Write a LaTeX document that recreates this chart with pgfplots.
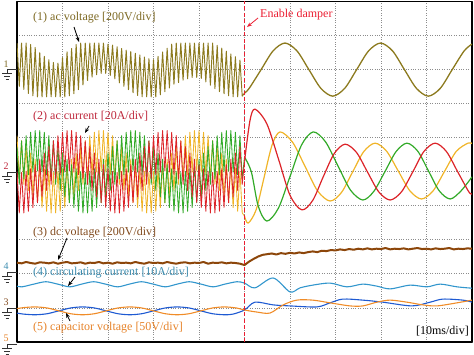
\documentclass[border=0pt]{standalone}
\usepackage{pgfplots}
\pgfplotsset{compat=1.18}
\usepackage{fontspec}
\setmainfont{Liberation Serif}
\usetikzlibrary{arrows.meta}
\definecolor{cOne}{RGB}{140,122,30}
\definecolor{cOneL}{RGB}{125,105,35}
\definecolor{cRed}{RGB}{220,35,40}
\definecolor{cYel}{RGB}{240,180,40}
\definecolor{cGrn}{RGB}{50,170,40}
\definecolor{cBrn}{RGB}{140,70,10}
\definecolor{cTeal}{RGB}{50,150,205}
\definecolor{cBlue}{RGB}{30,90,210}
\definecolor{cOrg}{RGB}{240,140,40}
\definecolor{lRed}{RGB}{190,40,60}
\definecolor{lBrn}{RGB}{130,75,30}
\definecolor{lTeal}{RGB}{60,140,175}
\definecolor{lOrg}{RGB}{230,130,40}
\definecolor{lEn}{RGB}{235,30,50}
\newcommand{\gnd}[1]{%
  \draw[line width=0.8pt,black!80] (17,#1)--(7,#1)--(7,#1-4);
  \draw[line width=0.8pt,black!80] (2,#1-4)--(12,#1-4);
  \draw[line width=0.8pt,black!80] (4,#1-7)--(10,#1-7);
  \draw[line width=0.8pt,black!80] (5.5,#1-10)--(8.5,#1-10);}
\begin{document}
\begin{tikzpicture}[x=1pt,y=1pt]
\path[use as bounding box] (0,0) rectangle (474,354);
\begin{axis}[
  at={(17pt,12pt)}, anchor=south west, scale only axis,
  width=455pt, height=340.5pt,
  xmin=0, xmax=100, ymin=0, ymax=10,
  xtick={0,10,...,100}, ytick={0,1,...,10},
  xticklabels={}, yticklabels={}, major tick length=0pt,
  grid=major, grid style={dotted, line width=0.9pt, black!45},
  axis line style={line width=1.8pt, black},
  line join=round,
]
% ---- channel 1: ac voltage
\addplot[cOne, line width=0.95pt] coordinates {
(0,8.78)(0.5,7.51)(1,8.78)(1.5,7.42)(2,8.78)(2.5,7.30)(3,8.74)(3.5,7.23)(4,8.65)(4.5,7.20)(5,8.50)(5.5,7.20)(6,8.39)(6.5,7.20)(7,8.29)(7.5,7.20)(8,8.21)(8.5,7.20)(9,8.19)(9.5,7.20)(10,8.35)(10.5,7.20)(11,8.52)(11.5,7.23)(12,8.62)(12.5,7.29)(13,8.74)(13.5,7.41)(14,8.78)(14.5,7.55)(15,8.78)(15.5,7.68)(16,8.78)(16.5,7.78)(17,8.78)(17.5,7.85)(18,8.78)(18.5,7.89)(19,8.78)(19.5,7.89)(20,8.75)(20.5,7.83)(21,8.72)(21.5,7.73)(22,8.67)(22.5,7.61)(23,8.62)(23.5,7.51)(24,8.57)(24.5,7.41)(25,8.53)(25.5,7.32)(26,8.48)(26.5,7.24)(27,8.43)(27.5,7.20)(28,8.37)(28.5,7.20)(29,8.32)(29.5,7.20)(30,8.29)(30.5,7.20)(31,8.39)(31.5,7.26)(32,8.52)(32.5,7.35)(33,8.63)(33.5,7.46)(34,8.75)(34.5,7.57)(35,8.78)(35.5,7.62)(36,8.78)(36.5,7.69)(37,8.78)(37.5,7.73)(38,8.78)(38.5,7.77)(39,8.78)(39.5,7.77)(40,8.78)(40.5,7.74)(41,8.78)(41.5,7.64)(42,8.78)(42.5,7.54)(43,8.78)(43.5,7.44)(44,8.71)(44.5,7.35)(45,8.63)(45.5,7.29)(46,8.54)(46.5,7.23)(47,8.46)(47.5,7.20)(48,8.38)(48.5,7.20)(49,8.28)(49.5,7.22)(50,7.31)};
\addplot[cOne, line width=1.3pt, smooth] coordinates {
(50,7.31)(51.03,7.45)(53.65,8.0)(56.28,8.55)(58.9,8.78)(61.53,8.55)(64.15,8.0)(66.78,7.45)(69.4,7.22)(72.03,7.45)(74.65,8.0)(77.28,8.55)(79.9,8.78)(82.53,8.55)(85.15,8.0)(87.78,7.45)(90.4,7.22)(93.03,7.45)(95.65,8.0)(98.28,8.55)(100,8.75)};
% ---- channel 2: ac currents
\addplot[cYel, line width=0.85pt] coordinates {
(0,6.06)(0.5,4.79)(1,5.91)(1.5,4.63)(2,5.74)(2.5,4.45)(3,5.55)(3.5,4.26)(4,5.37)(4.5,4.09)(5,5.21)(5.5,3.95)(6,5.09)(6.5,3.84)(7,5.01)(7.5,3.79)(8,4.98)(8.5,3.79)(9,5.01)(9.5,3.84)(10,5.09)(10.5,3.95)(11,5.21)(11.5,4.09)(12,5.37)(12.5,4.26)(13,5.55)(13.5,4.45)
(14,5.74)(14.5,4.63)(15,5.91)(15.5,4.79)(16,6.06)(16.5,4.91)(17,6.16)(17.5,4.99)(18,6.21)(18.5,5.02)(19,6.21)(19.5,4.99)(20,6.16)(20.5,4.91)(21,6.06)(21.5,4.79)(22,5.91)(22.5,4.63)(23,5.74)(23.5,4.45)(24,5.55)(24.5,4.26)(25,5.37)(25.5,4.09)(26,5.21)(26.5,3.95)(27,5.09)(27.5,3.84)(28,5.01)(28.5,3.79)(29,4.98)(29.5,3.79)(30,5.01)(30.5,3.84)(31,5.09)(31.5,3.95)(32,5.21)(32.5,4.09)(33,5.37)(33.5,4.26)(34,5.55)(34.5,4.45)
(35,5.74)(35.5,4.63)(36,5.91)(36.5,4.79)(37,6.06)(37.5,4.91)(38,6.16)(38.5,4.99)(39,6.21)(39.5,5.02)(40,6.21)(40.5,4.99)(41,6.16)(41.5,4.91)(42,6.06)(42.5,4.79)(43,5.91)(43.5,4.63)(44,5.74)(44.5,4.45)(45,5.55)(45.5,4.26)(46,5.37)(46.5,4.09)(47,5.21)(47.5,3.95)(48,5.09)(48.5,3.84)(49,5.01)(49.5,3.79)(50,3.7)};
\addplot[cGrn, line width=0.85pt] coordinates {
(0,5.74)(0.5,4.63)(1,5.91)(1.5,4.79)(2,6.06)(2.5,4.91)(3,6.16)(3.5,4.99)(4,6.21)(4.5,5.02)(5,6.21)(5.5,4.99)(6,6.16)(6.5,4.91)(7,6.06)(7.5,4.79)(8,5.91)(8.5,4.63)(9,5.74)(9.5,4.45)(10,5.55)(10.5,4.26)(11,5.37)(11.5,4.09)(12,5.21)(12.5,3.95)(13,5.09)(13.5,3.84)(14,5.01)(14.5,3.79)(15,4.98)(15.5,3.79)(16,5.01)(16.5,3.84)(17,5.09)(17.5,3.95)(18,5.21)(18.5,4.09)(19,5.37)(19.5,4.26)(20,5.55)(20.5,4.45)
(21,5.74)(21.5,4.63)(22,5.91)(22.5,4.79)(23,6.06)(23.5,4.91)(24,6.16)(24.5,4.99)(25,6.21)(25.5,5.02)(26,6.21)(26.5,4.99)(27,6.16)(27.5,4.91)(28,6.06)(28.5,4.79)(29,5.91)(29.5,4.63)(30,5.74)(30.5,4.45)(31,5.55)(31.5,4.26)(32,5.37)(32.5,4.09)(33,5.21)(33.5,3.95)(34,5.09)(34.5,3.84)(35,5.01)(35.5,3.79)(36,4.98)(36.5,3.79)(37,5.01)(37.5,3.84)(38,5.09)(38.5,3.95)(39,5.21)(39.5,4.09)(40,5.37)(40.5,4.26)(41,5.55)(41.5,4.45)
(42,5.74)(42.5,4.63)(43,5.91)(43.5,4.79)(44,6.06)(44.5,4.91)(45,6.16)(45.5,4.99)(46,6.21)(46.5,5.02)(47,6.21)(47.5,4.99)(48,6.16)(48.5,4.91)(49,6.06)(49.5,4.79)(50,5.43)};
\addplot[cRed, line width=0.85pt] coordinates {
(0,5.01)(0.5,3.79)(1,4.98)(1.5,3.79)(2,5.01)(2.5,3.84)(3,5.09)(3.5,3.95)(4,5.21)(4.5,4.09)(5,5.37)(5.5,4.26)(6,5.55)(6.5,4.45)
(7,5.74)(7.5,4.63)(8,5.91)(8.5,4.79)(9,6.06)(9.5,4.91)(10,6.16)(10.5,4.99)(11,6.21)(11.5,5.02)(12,6.21)(12.5,4.99)(13,6.16)(13.5,4.91)(14,6.06)(14.5,4.79)(15,5.91)(15.5,4.63)(16,5.74)(16.5,4.45)(17,5.55)(17.5,4.26)(18,5.37)(18.5,4.09)(19,5.21)(19.5,3.95)(20,5.09)(20.5,3.84)(21,5.01)(21.5,3.79)(22,4.98)(22.5,3.79)(23,5.01)(23.5,3.84)(24,5.09)(24.5,3.95)(25,5.21)(25.5,4.09)(26,5.37)(26.5,4.26)(27,5.55)(27.5,4.45)
(28,5.74)(28.5,4.63)(29,5.91)(29.5,4.79)(30,6.06)(30.5,4.91)(31,6.16)(31.5,4.99)(32,6.21)(32.5,5.02)(33,6.21)(33.5,4.99)(34,6.16)(34.5,4.91)(35,6.06)(35.5,4.79)(36,5.91)(36.5,4.63)(37,5.74)(37.5,4.45)(38,5.55)(38.5,4.26)(39,5.37)(39.5,4.09)(40,5.21)(40.5,3.95)(41,5.09)(41.5,3.84)(42,5.01)(42.5,3.79)(43,4.98)(43.5,3.79)(44,5.01)(44.5,3.84)(45,5.09)(45.5,3.95)(46,5.21)(46.5,4.09)(47,5.37)(47.5,4.26)(48,5.55)(48.5,4.45)
(49,5.74)(49.5,4.63)(50,5.3)};
\addplot[cYel, line width=1.2pt, smooth] coordinates {
(50,3.7)(50.8,3.49)(52.55,3.88)(54.3,4.83)(56.05,5.78)(57.8,6.17)(60.55,5.87)(63.3,5.16)(66.05,4.44)(68.8,4.14)(71.3,4.39)(73.75,4.99)(76.2,5.59)(78.7,5.84)(81.25,5.60)(83.8,5.02)(86.35,4.44)(88.9,4.2)(91.45,4.44)(94.0,5.02)(96.55,5.60)(99.1,5.84)(100,5.83)};
\addplot[cGrn, line width=1.2pt, smooth] coordinates {
(50,5.43)(51.5,5.0)(53.0,4.0)(54.9,3.55)(57.45,3.93)(60.0,4.86)(62.55,5.79)(65.1,6.17)(67.8,5.88)(70.55,5.17)(73.3,4.46)(76.0,4.17)(78.4,4.42)(80.85,5.0)(83.3,5.59)(85.7,5.84)(88.1,5.6)(90.45,5.02)(92.8,4.44)(95.2,4.2)(97.6,4.44)(100,4.85)};
\addplot[cRed, line width=1.2pt, smooth] coordinates {
(50,5.3)(51.2,6.5)(52.3,6.84)(54.9,6.41)(57.5,5.36)(60.0,4.31)(62.6,3.88)(65.0,4.16)(67.3,4.85)(69.7,5.53)(72.1,5.81)(74.6,5.57)(77.0,5.0)(79.5,4.41)(82.0,4.17)(84.5,4.41)(87.0,5.0)(89.4,5.59)(91.9,5.84)(94.4,5.59)(96.85,5.0)(99.3,4.41)(100,4.35)};
% ---- channel 3: dc voltage
\addplot[cBrn, line width=2pt] coordinates {
(0,2.33)(1,2.31)(2,2.35)(3,2.32)(4,2.30)(5,2.34)(6,2.33)(7,2.31)(8,2.34)(9,2.30)(10,2.33)(11,2.35)(12,2.31)(13,2.32)(14,2.34)(15,2.30)(16,2.33)(17,2.32)(18,2.35)(19,2.31)(20,2.33)(21,2.30)(22,2.34)(23,2.32)(24,2.33)(25,2.31)(26,2.35)(27,2.32)(28,2.30)(29,2.34)(30,2.32)(31,2.33)(32,2.31)(33,2.35)(34,2.32)(35,2.30)(36,2.33)(37,2.34)(38,2.31)(39,2.33)(40,2.32)(41,2.35)(42,2.30)(43,2.33)(44,2.32)(45,2.34)(46,2.31)(47,2.33)(48,2.32)(49,2.30)(50,2.26)
(51,2.36)(52,2.44)(53,2.51)(54,2.56)(55,2.58)(56,2.60)(57,2.57)(58,2.61)(59,2.59)(60,2.62)(61,2.60)(62,2.63)(63,2.61)(64,2.64)(65,2.66)(66,2.64)(67,2.68)(68,2.67)(69,2.70)(70,2.69)(71,2.72)(72,2.70)(73,2.73)(74,2.71)(75,2.74)(76,2.72)(77,2.75)(78,2.72)(79,2.74)(80,2.73)(81,2.76)(82,2.72)(83,2.74)(84,2.73)(85,2.75)(86,2.72)(87,2.74)(88,2.76)(89,2.73)(90,2.74)(91,2.72)(92,2.75)(93,2.73)(94,2.74)(95,2.76)(96,2.72)(97,2.74)(98,2.73)(99,2.75)(100,2.74)};
% ---- channel 4: circulating current
\addplot[cTeal, line width=1.1pt, smooth] coordinates {
(0,1.64)(1.1,1.62)(3.7,1.70)(6.35,1.77)(8.95,1.70)(11.6,1.62)(14.2,1.70)(16.85,1.77)(19.45,1.70)(22.1,1.62)(24.7,1.70)(27.35,1.77)(29.95,1.70)(32.6,1.62)(35.2,1.70)(37.85,1.77)(40.45,1.70)(43.1,1.62)(45.7,1.70)(48.35,1.77)(50,1.73)
(52.3,1.59)(56.3,1.88)(60,1.47)(62.2,1.59)(65,1.67)(68.8,1.73)(72.5,1.62)(76,1.70)(79.1,1.64)(82,1.56)(86.4,1.67)(90.1,1.62)(93,1.70)(96.7,1.62)(100,1.58)};
% ---- dark blue trace
\addplot[cBlue, line width=1.1pt, smooth] coordinates {
(0,0.85)(1.4,0.82)(4.0,0.80)(6.6,0.83)(9.2,0.915)(11.8,1.0)(14.4,1.03)(17.0,1.0)(19.6,0.915)(22.2,0.83)(24.8,0.80)(27.4,0.83)(30.0,0.915)(32.6,1.0)(35.2,1.03)(37.8,1.0)(40.4,0.915)(43.0,0.83)(45.6,0.80)(47.5,0.82)(50,0.94)
(52.3,1.17)(56.3,1.09)(60,1.06)(65.9,1.03)(68.8,1.15)(71.6,1.26)(76,1.23)(80.4,1.17)(86.8,1.06)(90.8,1.17)(93.6,1.26)(98,1.23)(100,1.17)};
% ---- channel 5: capacitor voltage
\addplot[cOrg, line width=1.1pt, smooth] coordinates {
(0,0.98)(1.4,1.01)(4.0,1.03)(6.6,1.0)(9.2,0.915)(11.8,0.83)(14.4,0.80)(17.0,0.83)(19.6,0.915)(22.2,1.0)(24.8,1.03)(27.4,1.0)(30.0,0.915)(32.6,0.83)(35.2,0.80)(37.8,0.83)(40.4,0.915)(43.0,1.0)(45.6,1.03)(48.2,1.0)(50,0.94)
(52.7,0.88)(55.6,0.85)(58.5,1.09)(61.5,1.23)(65,1.23)(68.8,1.15)(73.2,1.06)(76,1.06)(79.1,1.17)(82,1.23)(85.7,1.17)(89.2,1.09)(92.3,1.06)(96.7,1.15)(100,1.23)};
% ---- enable damper line
\addplot[lEn, line width=1.2pt, dash pattern=on 4pt off 2.5pt] coordinates {(50,0)(50,10)};
\end{axis}
% labels
\begin{scope}[every node/.style={font=\fontsize{12}{14}\selectfont, inner sep=0pt}]
\node[anchor=west, text=cOneL] at (33,336) {(1) ac voltage [200V/div]};
\node[anchor=west, text=lRed] at (33,237) {(2) ac current [20A/div]};
\node[anchor=west, text=lBrn] at (33,121) {(3) dc voltage [200V/div]};
\node[anchor=west, text=lTeal] at (33,81) {(4) circulating current [10A/div]};
\node[anchor=west, text=lOrg] at (33,26) {(5) capacitor voltage [50V/div]};
\node[anchor=west, text=lEn] at (260,339) {Enable damper};
\node[anchor=east, text=black] at (469,23) {[10ms/div]};
\end{scope}
\draw[-{Stealth[length=5pt]}, line width=0.8pt] (74,327)--(79,312);
\draw[-{Stealth[length=5pt]}, line width=0.8pt] (89,228)--(85,221);
\draw[-{Stealth[length=5pt]}, line width=0.8pt] (67,116)--(58,94);
\draw[-{Stealth[length=5pt]}, line width=0.8pt] (75,77)--(68,68);
\draw[-{Stealth[length=5pt]}, line width=0.8pt] (70,33)--(66,41);
\draw[-{Stealth[length=5pt]}, line width=0.8pt, lEn] (258,336)--(247,327);
% channel markers
\begin{scope}[every node/.style={font=\fontsize{10}{11}\selectfont, inner sep=0pt, anchor=south}]
\node[text=cOneL] at (6,286) {1};
\node[text=lRed] at (6,184) {2};
\node[text=lTeal] at (6,84) {4};
\node[text=lBrn] at (6,48) {3};
\node[text=lOrg] at (6,12) {5};
\end{scope}
\gnd{284.5}
\gnd{182}
\gnd{82}
\gnd{46}
\gnd{10}
\end{tikzpicture}
\end{document}
